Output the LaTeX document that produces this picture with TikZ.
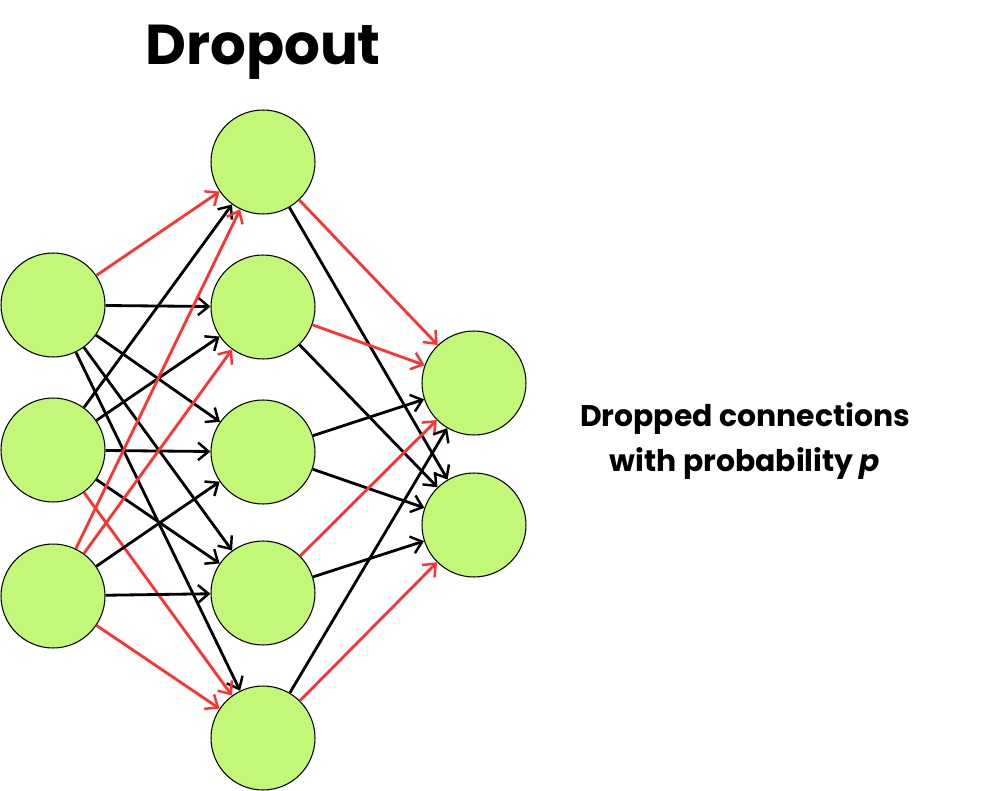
\documentclass[tikz,border=0pt]{standalone}
\usepackage{fontspec}
\setmainfont{Poppins}
\usetikzlibrary{arrows.meta}
\definecolor{nodegreen}{RGB}{195,247,120}
\definecolor{dropred}{RGB}{255,50,50}
\begin{document}
\begin{tikzpicture}[x=0.02cm,y=-0.02cm,
  neuron/.style={circle,draw=black,line width=0.6pt,fill=nodegreen,minimum size=2.08cm,inner sep=0pt},
  conn/.style={line width=1.6pt,-{Straight Barb[length=6pt,width=10pt,line width=1.4pt]}},
  keep/.style={conn,black},
  drop/.style={conn,dropred},
  title/.style={font=\fontsize{32}{38}\selectfont\bfseries},
  note/.style={font=\fontsize{17}{26}\selectfont\bfseries,align=center}]
\useasboundingbox (0,0) rectangle (981,791);
\node[neuron] (i1) at (53,305) {};
\node[neuron] (i2) at (53,450) {};
\node[neuron] (i3) at (53,596) {};
\node[neuron] (h1) at (263,162) {};
\node[neuron] (h2) at (263,307) {};
\node[neuron] (h3) at (263,452) {};
\node[neuron] (h4) at (263,593) {};
\node[neuron] (h5) at (263,738) {};
\node[neuron] (o1) at (474,383) {};
\node[neuron] (o2) at (474,525) {};
\node[title] (t) at (263,52) {Dropout};
\node[note] (n) at (745,441) {Dropped connections\\with probability \textit{p}};
\draw[drop] (i1) -- (h1);
\draw[keep] (i1) -- (h2);
\draw[keep] (i1) -- (h3);
\draw[keep] (i1) -- (h4);
\draw[keep] (i1) -- (h5);
\draw[keep] (i2) -- (h1);
\draw[keep] (i2) -- (h2);
\draw[keep] (i2) -- (h3);
\draw[keep] (i2) -- (h4);
\draw[drop] (i2) -- (h5);
\draw[drop] (i3) -- (h1);
\draw[drop] (i3) -- (h2);
\draw[keep] (i3) -- (h3);
\draw[keep] (i3) -- (h4);
\draw[drop] (i3) -- (h5);
\draw[drop] (h1) -- (o1);
\draw[keep] (h1) -- (o2);
\draw[drop] (h2) -- (o1);
\draw[keep] (h2) -- (o2);
\draw[keep] (h3) -- (o1);
\draw[keep] (h3) -- (o2);
\draw[drop] (h4) -- (o1);
\draw[keep] (h4) -- (o2);
\draw[keep] (h5) -- (o1);
\draw[drop] (h5) -- (o2);
\end{tikzpicture}
\end{document}
